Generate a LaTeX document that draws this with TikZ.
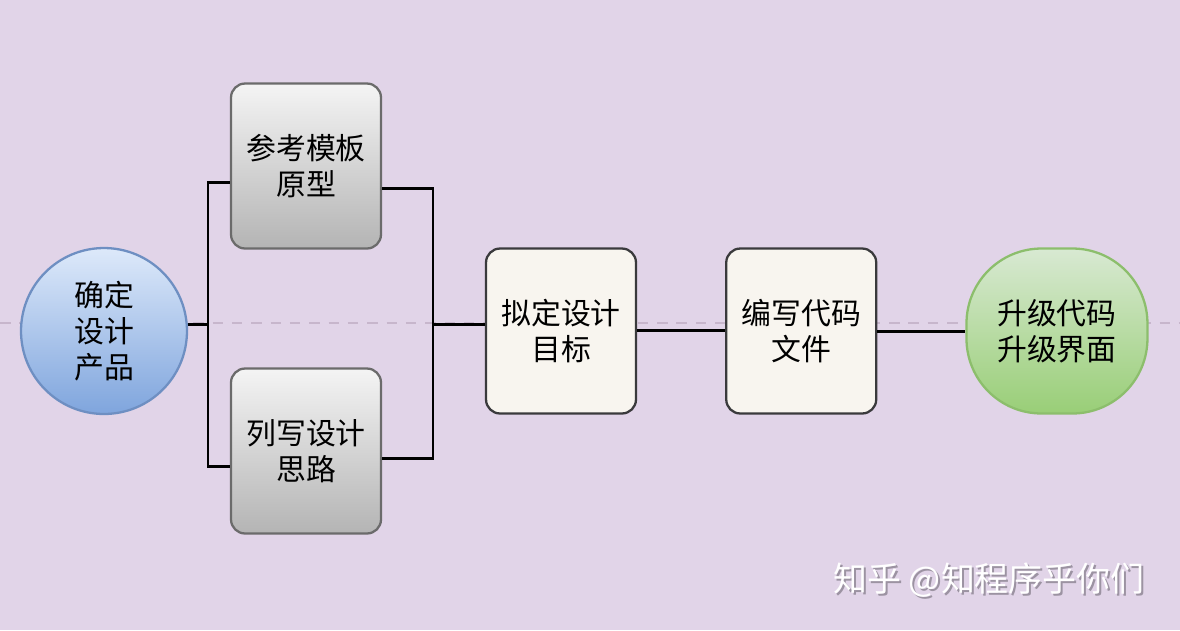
\documentclass[tikz,border=0pt]{standalone}
\usepackage{fontspec}
\newfontfamily\cjk{Noto Sans CJK SC}
\usetikzlibrary{positioning, calc}
\definecolor{lavender}{HTML}{E1D4E8}
\definecolor{guide}{HTML}{C7B6CC}
\definecolor{skytop}{HTML}{DDE9FA}
\definecolor{skybot}{HTML}{7FA5DD}
\definecolor{skyline}{HTML}{6E8FC2}
\definecolor{greytop}{HTML}{F4F4F4}
\definecolor{greybot}{HTML}{B4B4B4}
\definecolor{greyline}{HTML}{6B6B6B}
\definecolor{creamfill}{HTML}{F8F5EF}
\definecolor{inkline}{HTML}{3A3A3C}
\definecolor{leaftop}{HTML}{D8E9D2}
\definecolor{leafbot}{HTML}{99CE77}
\definecolor{leafline}{HTML}{8CBE6C}
\definecolor{shadowgrey}{HTML}{9C93A2}

\begin{document}
\begin{tikzpicture}[
  x=0.02cm, y=-0.02cm,
  font=\cjk\fontsize{17}{20.5}\selectfont,
  start/.style={
    circle, minimum size=3.32cm, inner sep=0pt, align=center,
    draw=skyline, line width=1.3pt, top color=skytop, bottom color=skybot
  },
  greybox/.style={
    rounded corners=8pt, minimum width=3cm, minimum height=3.3cm,
    inner sep=2pt, align=center, draw=greyline, line width=1.3pt,
    top color=greytop, bottom color=greybot
  },
  task/.style={
    rounded corners=8pt, minimum width=3cm, minimum height=3.3cm,
    inner sep=2pt, align=center, draw=inkline, line width=1.3pt,
    fill=creamfill
  },
  finish/.style={
    rounded corners=1.5cm, minimum width=3.62cm, minimum height=3.3cm,
    inner sep=2pt, align=center, draw=leafline, line width=1.3pt,
    top color=leaftop, bottom color=leafbot
  },
  link/.style={line width=1.7pt, draw=black},
  credit/.style={font=\cjk\fontsize{19.3}{21}\selectfont, inner sep=0pt},
]

\fill[lavender] (0,0) rectangle (1180,630);
\useasboundingbox (0,0) rectangle (1180,630);
\draw[guide, dashed, dash pattern=on 6pt off 5pt, line width=0.6pt] (0,323) -- (1180,323);

\node[start] (design) at (104,331) {确定\\设计\\产品};
\node[greybox] (ref) at (306,166) {参考模板\\原型};
\node[greybox] (list) at (306,451) {列写设计\\思路};

\node[task] (goal) at (561,331) {拟定设计\\目标};
\node[task, right=1.76cm of goal] (code) {编写代码\\文件};
\node[finish, right=1.76cm of code] (upgrade) {升级代码\\升级界面};

\coordinate (fork) at (208,324);
\coordinate (join) at (433,324);

\draw[link] (design.east |- fork) -- (fork);
\draw[link] (ref.west |- 0,182) -| (fork) |- (list.west |- 0,466);
\draw[link] (ref.east |- 0,188) -| (join) |- (list.east |- 0,458);
\draw[link] (join) -- (goal.west |- join);
\draw[link] (goal.east |- 0,330) -- (code.west |- 0,330);
\draw[link] (code.east |- 0,331) -- (upgrade.west |- 0,331);

% watermark
\node[credit, text=shadowgrey] (creditshade) at (991,582) {知乎 @知程序乎你们};
\node[credit, text=white] (credit) at (989,580) {知乎 @知程序乎你们};

\end{tikzpicture}
\end{document}
